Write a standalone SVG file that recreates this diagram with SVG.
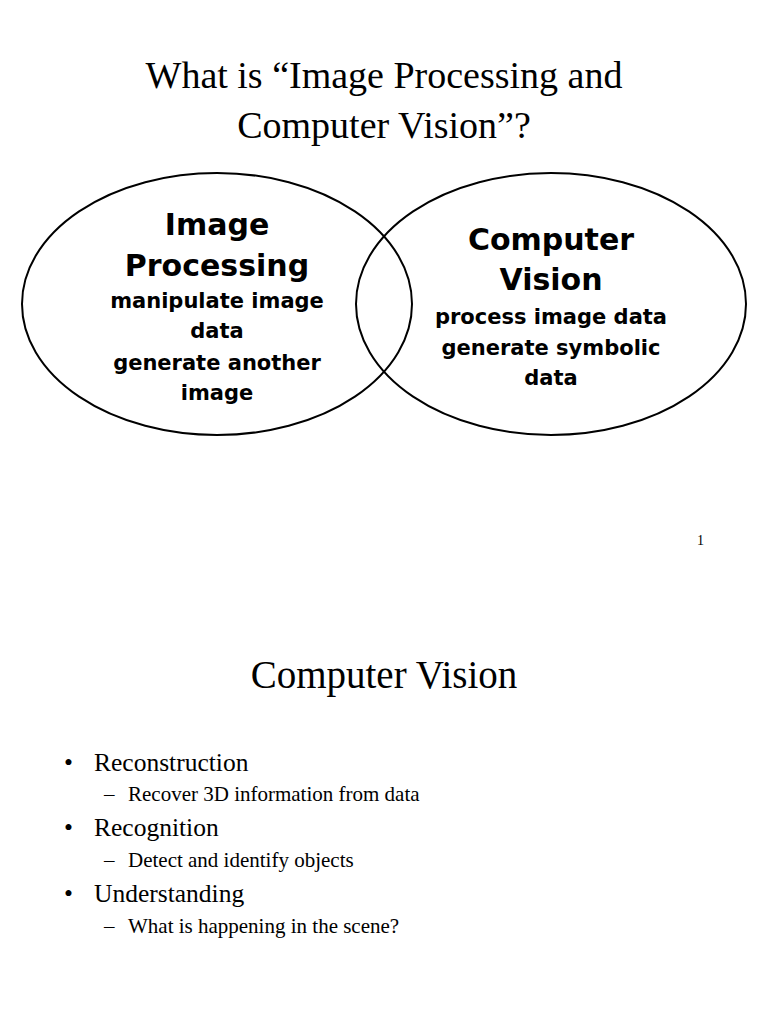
<svg xmlns="http://www.w3.org/2000/svg" width="768" height="1024" viewBox="0 0 768 1024">
<style>
.t{font-family:"Liberation Serif",serif;fill:#000}
.h{font-size:38px;text-anchor:middle}
.b{font-family:"DejaVu Sans",sans-serif;font-weight:bold;text-anchor:middle;fill:#000}
.big{font-size:30px}
.sm{font-size:21px}
.l1{font-size:25.5px}
.l2{font-size:21px}
ellipse{fill:none;stroke:#000;stroke-width:2}
</style>
<rect width="768" height="1024" fill="#fff"/>
<text class="t h" x="384" y="88">What is “Image Processing and</text>
<text class="t h" x="384" y="138">Computer Vision”?</text>
<g id="image-processing">
<ellipse cx="217" cy="304" rx="195" ry="131"/>
<text class="b big" x="217" y="235">Image</text>
<text class="b big" x="217" y="276">Processing</text>
<text class="b sm" x="217" y="308">manipulate image</text>
<text class="b sm" x="217" y="338">data</text>
<text class="b sm" x="217" y="370">generate another</text>
<text class="b sm" x="217" y="400">image</text>
</g>
<g id="computer-vision">
<ellipse cx="551" cy="304" rx="195" ry="131"/>
<text class="b big" x="551" y="250">Computer</text>
<text class="b big" x="551" y="290">Vision</text>
<text class="b sm" x="551" y="324">process image data</text>
<text class="b sm" x="551" y="355">generate symbolic</text>
<text class="b sm" x="551" y="385">data</text>
</g>
<g id="connectors"/>
<text class="t" x="697" y="545" font-size="14">1</text>
<text class="t" x="384" y="688" font-size="39" text-anchor="middle">Computer Vision</text>
<g class="t">
<text class="l1" x="64" y="771">•</text><text class="l1" x="94" y="771">Reconstruction</text>
<text class="l2" x="104" y="801">–</text><text class="l2" x="128" y="801">Recover 3D information from data</text>
<text class="l1" x="64" y="836">•</text><text class="l1" x="94" y="836">Recognition</text>
<text class="l2" x="104" y="867">–</text><text class="l2" x="128" y="867">Detect and identify objects</text>
<text class="l1" x="64" y="902">•</text><text class="l1" x="94" y="902">Understanding</text>
<text class="l2" x="104" y="933">–</text><text class="l2" x="128" y="933">What is happening in the scene?</text>
</g>
</svg>
